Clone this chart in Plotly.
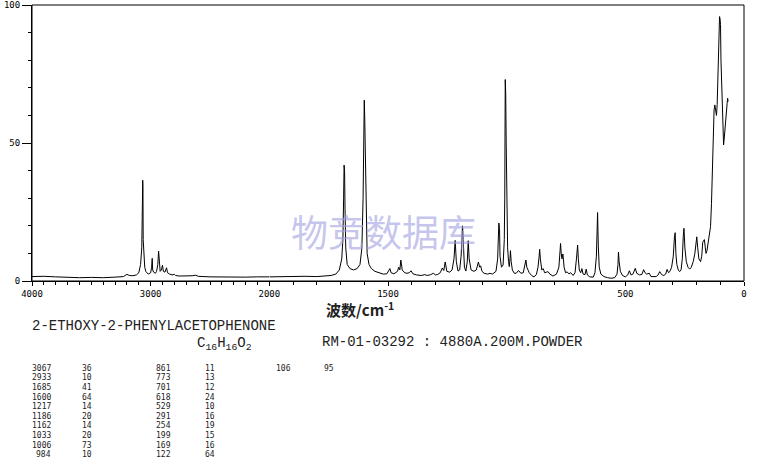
import plotly.graph_objects as go

# ---------------- data ----------------
wavenumber = [
    4000, 3900, 3800, 3700, 3600, 3500, 3400, 3300, 3230, 3200, 3180, 3150, 3120, 3100,
    3085, 3075, 3070, 3067, 3065, 3063, 3058, 3050, 3040, 3020, 3000, 2992, 2987, 2983,
    2975, 2960, 2950, 2940, 2933, 2928, 2920, 2910, 2900, 2893, 2880, 2866, 2858, 2840,
    2820, 2800, 2790, 2760, 2700, 2650, 2620, 2600, 2500, 2400, 2300, 2200, 2100, 2000,
    1950, 1900, 1850, 1800, 1760, 1740, 1720, 1705, 1695, 1690, 1687, 1685, 1683, 1681,
    1678, 1672, 1660, 1645, 1630, 1618, 1610, 1605, 1603, 1600, 1598, 1595, 1592, 1588,
    1580, 1570, 1555, 1540, 1520, 1505, 1497, 1492, 1487, 1475, 1460, 1455, 1450, 1446,
    1440, 1430, 1420, 1410, 1403, 1395, 1380, 1360, 1345, 1335, 1320, 1309, 1300, 1290,
    1280, 1271, 1265, 1259, 1252, 1240, 1230, 1222, 1217, 1212, 1205, 1198, 1192, 1188,
    1186, 1183, 1178, 1172, 1166, 1162, 1158, 1150, 1138, 1128, 1122, 1119, 1114, 1110,
    1104, 1095, 1080, 1070, 1060, 1045, 1038, 1036, 1033, 1030, 1028, 1022, 1015, 1010,
    1008, 1006, 1004, 1002, 1000, 996, 992, 989, 986, 984, 981, 976, 968, 960,
    950, 940, 930, 925, 919, 915, 905, 895, 885, 875, 868, 863, 861, 858,
    852, 846, 840, 832, 826, 818, 805, 790, 780, 775, 773, 770, 767, 763,
    758, 752, 745, 738, 730, 720, 712, 706, 703, 701, 698, 694, 688, 683,
    678, 670, 665, 660, 650, 635, 628, 622, 619, 617, 614, 610, 603, 590,
    575, 560, 545, 535, 531, 529, 526, 521, 512, 500, 490, 483, 476, 468,
    458, 452, 440, 430, 423, 417, 410, 399, 392, 380, 370, 362, 355, 347,
    338, 330, 324, 318, 312, 305, 298, 293, 290, 287, 283, 277, 271, 265,
    260, 256, 253, 249, 243, 236, 229, 222, 214, 207, 203, 199, 195, 190,
    183, 178, 174, 170, 167, 163, 160, 156, 150, 145, 141, 137, 134, 130,
    126, 123, 119, 116, 113, 110, 106, 103, 101, 99, 97, 95, 92, 89,
    86, 84, 81, 78, 75, 71, 69, 67,
]
intensity = [
    1.6, 1.7, 1.5, 1.3, 1.2, 1.3, 1.2, 1.4, 1.6, 2.4, 2.0, 1.9, 2.2, 3.0,
    6, 12, 30, 36.5, 34, 15, 10, 5, 3.4, 2.5, 3.0, 5, 8.2, 4,
    3.2, 2.8, 3.5, 6, 10.8, 6, 3.5, 4, 5.7, 3.5, 3.2, 4.8, 3.0, 2.5,
    2.2, 2.4, 2.0, 1.8, 1.8, 1.9, 2.1, 1.7, 1.5, 1.4, 1.3, 1.4, 1.5, 1.5,
    1.6, 1.5, 1.7, 1.6, 1.8, 2.0, 2.5, 4, 8, 15, 30, 42, 40, 26,
    12, 6, 4.5, 4, 4.5, 6, 12, 30, 41, 65.5, 59, 41, 20, 10,
    6, 4.5, 3.5, 3, 2.5, 2.6, 3.5, 4.5, 3, 2.6, 3.5, 5, 4, 7.6,
    4, 3, 2.8, 3.0, 3.7, 2.6, 2.2, 2.0, 2.3, 2.0, 2.3, 2.8, 2.2, 2.4,
    3, 4.7, 3.8, 6.9, 3.5, 3.2, 4, 8, 14.7, 7, 3.6, 4, 9, 16,
    20, 15, 5, 3.6, 7, 14.6, 8, 4, 3.5, 4, 6, 6.9, 5, 5.5,
    3.5, 2.8, 2.5, 2.8, 2.5, 3.5, 8, 12, 21, 19, 9, 5, 5.8, 15,
    30, 73, 68, 50, 36, 12, 7, 5.2, 8, 11, 7, 4, 2.8, 2.8,
    3.8, 2.8, 3, 5, 7.6, 5, 3, 2, 1.5, 2.3, 5, 9, 11.5, 8,
    4, 4.5, 3, 3.2, 3.4, 2.5, 1.8, 2.5, 5, 11, 13.6, 10, 8, 9.8,
    5, 3, 3.3, 2.6, 3, 2, 3, 8, 11, 13, 8, 4, 3, 4.5,
    2.5, 2.3, 4.3, 2.2, 1.5, 1.4, 3, 9, 18, 24.8, 13, 5, 2.5, 1.6,
    1.2, 1.0, 1.2, 2.5, 6, 10.5, 7, 3.5, 2.0, 1.5, 2.2, 3.7, 2.2, 2.5,
    4.6, 2.8, 2.2, 2.4, 4.1, 3.0, 2.5, 2.8, 1.6, 1.5, 1.6, 2.2, 3.4, 2.3,
    2.0, 2.5, 4.2, 3, 3.5, 5, 9, 16, 17.5, 10, 6, 4, 3.4, 4,
    8, 16, 19.1, 12, 7, 5, 4.3, 5, 7, 10, 14, 16, 12, 8,
    7, 9, 14, 15, 15, 12, 10, 11, 14, 17, 19.7, 28, 39.6, 52,
    62, 63.8, 60, 60, 64, 77, 90, 95.8, 95, 93, 80, 75, 60, 52,
    49.3, 51, 55, 57.7, 63, 64.4, 66.2, 65,
]

# peak table printed under the chart
peak_wn_1 = ["3067", "2933", "1685", "1600", "1217", "1186", "1162", "1033", "1006", "984"]
peak_int_1 = ["36", "10", "41", "64", "14", "20", "14", "20", "73", "10"]
peak_wn_2 = ["861", "773", "701", "618", "529", "291", "254", "199", "169", "122"]
peak_int_2 = ["11", "13", "12", "24", "10", "16", "19", "15", "16", "64"]
peak_wn_3 = ["106"]
peak_int_3 = ["95"]

compound_name = "2-ETHOXY-2-PHENYLACETOPHENONE"
formula = "C<sub>16</sub>H<sub>16</sub>O<sub>2</sub>"
sample_info = "RM-01-03292 : 4880A.200M.POWDER"
x_title = "波数/cm<sup>-1</sup>"
watermark = "物竞数据库"

left_ticks = [4000, 3000, 2000]
right_ticks = [1500, 500, 0]
y_ticks = [0, 50, 100]

# ---------------- figure ----------------
W, H = 765, 461
ML, MR, MT, MB = 32, 21, 5, 180
PW, PH = W - ML - MR, H - MT - MB


def px(x):
    return (x - ML) / PW


def py(y):
    return (H - MB - y) / PH


left_x = [w for w in wavenumber if w >= 2000]
left_y = [i for w, i in zip(wavenumber, intensity) if w >= 2000]
right_x = [w for w in wavenumber if w <= 2000]
right_y = [i for w, i in zip(wavenumber, intensity) if w <= 2000]

fig = go.Figure()
fig.add_trace(go.Scatter(x=left_x, y=left_y, mode="lines", xaxis="x", yaxis="y",
                         line=dict(color="black", width=1), showlegend=False,
                         hoverinfo="skip"))
fig.add_trace(go.Scatter(x=right_x, y=right_y, mode="lines", xaxis="x2", yaxis="y",
                         line=dict(color="black", width=1), showlegend=False,
                         hoverinfo="skip"))

tickfont = dict(family="DejaVu Sans Mono", size=9, color="black")
minor_x = dict(tickmode="linear", tick0=0, dtick=100, ticks="outside", ticklen=3,
               tickcolor="black", tickwidth=1, showgrid=False)

fig.update_layout(
    width=W, height=H,
    margin=dict(l=ML, r=MR, t=MT, b=MB, pad=0, autoexpand=False),
    paper_bgcolor="white", plot_bgcolor="white",
    showlegend=False,
    xaxis=dict(domain=[0, 1 / 3], range=[4000, 2000], anchor="y",
               tickmode="array", tickvals=left_ticks,
               ticktext=[str(t) for t in left_ticks],
               ticks="outside", ticklen=4, tickcolor="black", tickwidth=1,
               showline=True, linecolor="black", linewidth=1,
               showgrid=False, zeroline=False, tickfont=tickfont,
               minor=minor_x),
    xaxis2=dict(domain=[1 / 3, 1], range=[2000, 0], anchor="y",
                tickmode="array", tickvals=right_ticks,
                ticktext=[str(t) for t in right_ticks],
                ticks="outside", ticklen=4, tickcolor="black", tickwidth=1,
                showline=True, linecolor="black", linewidth=1,
                showgrid=False, zeroline=False, tickfont=tickfont,
                minor=minor_x),
    yaxis=dict(range=[0, 100], anchor="x",
               tickmode="array", tickvals=y_ticks,
               ticktext=[str(t) for t in y_ticks],
               ticks="outside", ticklen=9, tickcolor="black", tickwidth=1,
               showline=True, linecolor="black", linewidth=1,
               showgrid=False, zeroline=False, tickfont=tickfont,
               minor=dict(tickmode="linear", tick0=0, dtick=10, ticks="outside",
                          ticklen=3, tickcolor="black", tickwidth=1, showgrid=False)),
)

# frame (top & right)
fig.add_shape(type="rect", xref="paper", yref="paper", x0=0, x1=1, y0=0, y1=1,
              line=dict(color="black", width=1), layer="above")

ann = []
# watermark
ann.append(dict(text=watermark, x=px(383), y=py(231), xref="paper", yref="paper",
                showarrow=False, xanchor="center", yanchor="middle",
                font=dict(family="Noto Sans CJK SC", size=37, color="rgba(160,160,225,0.6)")))
# axis title
ann.append(dict(text="<b>" + x_title + "</b>", x=px(360), y=py(309), xref="paper", yref="paper",
                showarrow=False, xanchor="center", yanchor="middle",
                font=dict(family="Noto Sans CJK SC", size=15, color="#222")))
mono = dict(family="Liberation Mono", size=14, color="#222")
ann.append(dict(text=compound_name, x=px(30), y=py(326), xref="paper", yref="paper",
                showarrow=False, xanchor="left", yanchor="middle", font=mono))
ann.append(dict(text=formula, x=px(195), y=py(344), xref="paper", yref="paper",
                showarrow=False, xanchor="left", yanchor="middle", font=mono))
ann.append(dict(text=sample_info, x=px(320), y=py(342), xref="paper", yref="paper",
                showarrow=False, xanchor="left", yanchor="middle", font=mono))

small = dict(family="DejaVu Sans Mono", size=8, color="#222")
row0, dy = 368.3, 9.6
columns = [
    (peak_wn_1, 53, "right"), (peak_int_1, 80, "left"),
    (peak_wn_2, 173, "right"), (peak_int_2, 203, "left"),
    (peak_wn_3, 293, "right"), (peak_int_3, 322, "left"),
]
for vals, xpos, anchor in columns:
    for r, v in enumerate(vals):
        ann.append(dict(text=v, x=px(xpos), y=py(row0 + r * dy), xref="paper", yref="paper",
                        showarrow=False, xanchor=anchor, yanchor="middle", font=small))

fig.update_layout(annotations=ann)
fig.write_html("out.html", config={"displayModeBar": False},
               post_script="document.body.style.margin='0';document.body.style.overflow='hidden';")
